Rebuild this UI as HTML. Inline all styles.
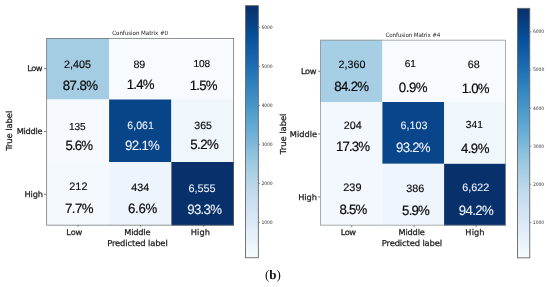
<!DOCTYPE html>
<html lang="en"><head><meta charset="utf-8"><title>Confusion matrices (b)</title>
<style>
html,body{margin:0;padding:0;background:#fff;}
body{width:550px;height:287px;overflow:hidden;font-family:"Liberation Sans",sans-serif;}
svg{display:block;}
text{white-space:pre;text-rendering:geometricPrecision;}
</style></head>
<body>
<svg width="550" height="287" viewBox="0 0 550 287">
<rect width="550" height="287" fill="#ffffff"/>
<rect x="46.35" y="38.00" width="62.75" height="61.50" fill="#a4cce3"/>
<rect x="109.10" y="38.00" width="62.30" height="61.50" fill="#f7fbff"/>
<rect x="171.40" y="38.00" width="62.60" height="61.50" fill="#f7fbff"/>
<rect x="46.35" y="99.50" width="62.75" height="62.50" fill="#f6faff"/>
<rect x="109.10" y="99.50" width="62.30" height="62.50" fill="#084488"/>
<rect x="171.40" y="99.50" width="62.60" height="62.50" fill="#eff6fc"/>
<rect x="46.35" y="162.00" width="62.75" height="63.50" fill="#f4f9fe"/>
<rect x="109.10" y="162.00" width="62.30" height="63.50" fill="#edf4fc"/>
<rect x="171.40" y="162.00" width="62.60" height="63.50" fill="#08306b"/>
<rect x="46.70" y="38.35" width="186.95" height="186.80" fill="none" stroke="#6a6a6a" stroke-width="0.7"/>
<text x="64.01" y="67.66" font-family="'Liberation Sans', sans-serif" font-size="10.78" letter-spacing="-0.002" fill="#0a0a0a" stroke="#0a0a0a" stroke-width="0.15">2,405</text>
<text transform="translate(62.79,90.19) scale(0.98,1)" font-family="'Liberation Sans', sans-serif" font-size="13.5" letter-spacing="-0.582" fill="#0a0a0a" stroke="#0a0a0a" stroke-width="0.2">87.8%</text>
<text x="133.39" y="67.65" font-family="'Liberation Sans', sans-serif" font-size="10.76" letter-spacing="-0.002" fill="#0a0a0a" stroke="#0a0a0a" stroke-width="0.15">89</text>
<text transform="translate(126.86,89.49) scale(0.98,1)" font-family="'Liberation Sans', sans-serif" font-size="13.5" letter-spacing="-0.876" fill="#0a0a0a" stroke="#0a0a0a" stroke-width="0.2">1.4%</text>
<text x="193.59" y="66.62" font-family="'Liberation Sans', sans-serif" font-size="10.1" letter-spacing="-0.177" fill="#0a0a0a" stroke="#0a0a0a" stroke-width="0.15">108</text>
<text transform="translate(189.76,89.59) scale(0.98,1)" font-family="'Liberation Sans', sans-serif" font-size="13.5" letter-spacing="-0.842" fill="#0a0a0a" stroke="#0a0a0a" stroke-width="0.2">1.5%</text>
<text x="68.99" y="130.47" font-family="'Liberation Sans', sans-serif" font-size="10.1" letter-spacing="-0.140" fill="#0a0a0a" stroke="#0a0a0a" stroke-width="0.15">135</text>
<text transform="translate(65.62,150.09) scale(0.98,1)" font-family="'Liberation Sans', sans-serif" font-size="13.5" letter-spacing="-0.932" fill="#0a0a0a" stroke="#0a0a0a" stroke-width="0.2">5.6%</text>
<text x="127.32" y="129.00" font-family="'Liberation Sans', sans-serif" font-size="10.6" letter-spacing="0.002" fill="#eef3fb" stroke="#eef3fb" stroke-width="0.08">6,061</text>
<text transform="translate(125.12,149.69) scale(0.98,1)" font-family="'Liberation Sans', sans-serif" font-size="13.5" letter-spacing="-0.718" fill="#eef3fb" stroke="#eef3fb" stroke-width="0.1">92.1%</text>
<text x="194.35" y="128.89" font-family="'Liberation Sans', sans-serif" font-size="10.57" letter-spacing="-0.003" fill="#0a0a0a" stroke="#0a0a0a" stroke-width="0.15">365</text>
<text transform="translate(190.22,149.19) scale(0.98,1)" font-family="'Liberation Sans', sans-serif" font-size="13.5" letter-spacing="-0.558" fill="#0a0a0a" stroke="#0a0a0a" stroke-width="0.2">5.2%</text>
<text x="69.20" y="190.10" font-family="'Liberation Sans', sans-serif" font-size="10.9" letter-spacing="0.057" fill="#0a0a0a" stroke="#0a0a0a" stroke-width="0.15">212</text>
<text transform="translate(65.06,213.24) scale(0.98,1)" font-family="'Liberation Sans', sans-serif" font-size="13.5" letter-spacing="-0.603" fill="#0a0a0a" stroke="#0a0a0a" stroke-width="0.2">7.7%</text>
<text x="131.31" y="191.23" font-family="'Liberation Sans', sans-serif" font-size="10.7" letter-spacing="-0.004" fill="#0a0a0a" stroke="#0a0a0a" stroke-width="0.15">434</text>
<text transform="translate(128.09,213.24) scale(0.98,1)" font-family="'Liberation Sans', sans-serif" font-size="13.5" letter-spacing="-0.376" fill="#0a0a0a" stroke="#0a0a0a" stroke-width="0.2">6.6%</text>
<text x="188.41" y="191.50" font-family="'Liberation Sans', sans-serif" font-size="10.9" letter-spacing="0.001" fill="#eef3fb" stroke="#eef3fb" stroke-width="0.08">6,555</text>
<text transform="translate(187.22,213.99) scale(0.98,1)" font-family="'Liberation Sans', sans-serif" font-size="13.5" letter-spacing="-0.693" fill="#eef3fb" stroke="#eef3fb" stroke-width="0.1">93.3%</text>
<text transform="translate(112.19,35.10) scale(0.95,1)" font-family="'DejaVu Sans', sans-serif" font-size="5.9" letter-spacing="-0.075" fill="#222">Confusion Matrix #0</text>
<text transform="translate(66.35,235.20) scale(1.03,1)" font-family="'DejaVu Sans', sans-serif" font-size="8.0" letter-spacing="-0.136" fill="#222" stroke="#222" stroke-width="0.25">Low</text>
<text transform="translate(124.35,235.20) scale(1.03,1)" font-family="'DejaVu Sans', sans-serif" font-size="8.0" letter-spacing="-0.209" fill="#222" stroke="#222" stroke-width="0.25">Middle</text>
<text transform="translate(190.85,235.20) scale(1.03,1)" font-family="'DejaVu Sans', sans-serif" font-size="8.0" letter-spacing="0.049" fill="#222" stroke="#222" stroke-width="0.25">High</text>
<text transform="translate(107.13,245.80) scale(1.03,1)" font-family="'DejaVu Sans', sans-serif" font-size="8.2" letter-spacing="-0.142" fill="#222" stroke="#222" stroke-width="0.25">Predicted label</text>
<text transform="translate(27.35,71.20) scale(1.03,1)" font-family="'DejaVu Sans', sans-serif" font-size="8.0" letter-spacing="-0.524" fill="#222" stroke="#222" stroke-width="0.25">Low</text>
<text transform="translate(16.75,133.70) scale(1.03,1)" font-family="'DejaVu Sans', sans-serif" font-size="8.0" letter-spacing="-0.267" fill="#222" stroke="#222" stroke-width="0.25">Middle</text>
<text transform="translate(24.55,196.60) scale(1.03,1)" font-family="'DejaVu Sans', sans-serif" font-size="8.0" letter-spacing="-0.145" fill="#222" stroke="#222" stroke-width="0.25">High</text>
<text transform="translate(11.90,150.83) rotate(-90) scale(1.03,1)" font-family="'DejaVu Sans', sans-serif" font-size="8.2" letter-spacing="-0.096" fill="#222" stroke="#222" stroke-width="0.25">True label</text>
<line x1="78.10" x2="78.10" y1="225.00" y2="226.60" stroke="#444" stroke-width="0.7"/>
<line x1="140.60" x2="140.60" y1="225.00" y2="226.60" stroke="#444" stroke-width="0.7"/>
<line x1="203.30" x2="203.30" y1="225.00" y2="226.60" stroke="#444" stroke-width="0.7"/>
<line x1="44.00" x2="46.20" y1="68.70" y2="68.70" stroke="#444" stroke-width="0.7"/>
<line x1="44.00" x2="46.20" y1="131.50" y2="131.50" stroke="#444" stroke-width="0.7"/>
<line x1="44.00" x2="46.20" y1="194.30" y2="194.30" stroke="#444" stroke-width="0.7"/>
<defs><linearGradient id="g1" x1="0" y1="0" x2="0" y2="1"><stop offset="0.0000" stop-color="#08306b"/><stop offset="0.0312" stop-color="#083776"/><stop offset="0.0625" stop-color="#084082"/><stop offset="0.0938" stop-color="#08488e"/><stop offset="0.1250" stop-color="#08509b"/><stop offset="0.1562" stop-color="#0e58a2"/><stop offset="0.1875" stop-color="#1460a8"/><stop offset="0.2188" stop-color="#1a68ae"/><stop offset="0.2500" stop-color="#2070b4"/><stop offset="0.2812" stop-color="#2979b9"/><stop offset="0.3125" stop-color="#3181bd"/><stop offset="0.3438" stop-color="#3989c1"/><stop offset="0.3750" stop-color="#4191c6"/><stop offset="0.4062" stop-color="#4b98ca"/><stop offset="0.4375" stop-color="#56a0ce"/><stop offset="0.4688" stop-color="#60a7d2"/><stop offset="0.5000" stop-color="#6aaed6"/><stop offset="0.5312" stop-color="#77b5d9"/><stop offset="0.5625" stop-color="#84bcdb"/><stop offset="0.5938" stop-color="#91c3de"/><stop offset="0.6250" stop-color="#9dcae1"/><stop offset="0.6562" stop-color="#a8cee4"/><stop offset="0.6875" stop-color="#b2d2e8"/><stop offset="0.7188" stop-color="#bcd7eb"/><stop offset="0.7500" stop-color="#c6dbef"/><stop offset="0.7812" stop-color="#ccdff1"/><stop offset="0.8125" stop-color="#d2e3f3"/><stop offset="0.8438" stop-color="#d8e7f5"/><stop offset="0.8750" stop-color="#deebf7"/><stop offset="0.9062" stop-color="#e4eff9"/><stop offset="0.9375" stop-color="#eaf3fb"/><stop offset="0.9688" stop-color="#f1f7fd"/><stop offset="1.0000" stop-color="#f7fbff"/></linearGradient></defs>
<rect x="245.55" y="5.65" width="12.80" height="252.10" fill="url(#g1)" stroke="#666" stroke-width="0.9"/>
<line x1="258.80" x2="259.90" y1="27.30" y2="27.30" stroke="#333" stroke-width="0.6"/>
<text transform="translate(261.58,28.75) scale(0.97,1)" font-family="'DejaVu Sans', sans-serif" font-size="4.7" letter-spacing="-0.167" fill="#3a3a3a">6000</text>
<line x1="258.80" x2="259.90" y1="66.32" y2="66.32" stroke="#333" stroke-width="0.6"/>
<text transform="translate(261.55,67.77) scale(0.97,1)" font-family="'DejaVu Sans', sans-serif" font-size="4.7" letter-spacing="-0.156" fill="#3a3a3a">5000</text>
<line x1="258.80" x2="259.90" y1="105.34" y2="105.34" stroke="#333" stroke-width="0.6"/>
<text transform="translate(261.67,106.79) scale(0.97,1)" font-family="'DejaVu Sans', sans-serif" font-size="4.7" letter-spacing="-0.199" fill="#3a3a3a">4000</text>
<line x1="258.80" x2="259.90" y1="144.36" y2="144.36" stroke="#333" stroke-width="0.6"/>
<text transform="translate(261.56,145.81) scale(0.97,1)" font-family="'DejaVu Sans', sans-serif" font-size="4.7" letter-spacing="-0.160" fill="#3a3a3a">3000</text>
<line x1="258.80" x2="259.90" y1="183.38" y2="183.38" stroke="#333" stroke-width="0.6"/>
<text transform="translate(261.57,184.83) scale(0.97,1)" font-family="'DejaVu Sans', sans-serif" font-size="4.7" letter-spacing="-0.164" fill="#3a3a3a">2000</text>
<line x1="258.80" x2="259.90" y1="222.40" y2="222.40" stroke="#333" stroke-width="0.6"/>
<text transform="translate(261.40,223.85) scale(0.97,1)" font-family="'DejaVu Sans', sans-serif" font-size="4.7" letter-spacing="-0.105" fill="#3a3a3a">1000</text>
<rect x="320.00" y="39.80" width="62.40" height="62.20" fill="#a6cee4"/>
<rect x="382.40" y="39.80" width="61.70" height="62.20" fill="#f7fbff"/>
<rect x="444.10" y="39.80" width="61.70" height="62.20" fill="#f7fbff"/>
<rect x="320.00" y="102.00" width="62.40" height="61.80" fill="#f3f8fe"/>
<rect x="382.40" y="102.00" width="61.70" height="61.80" fill="#08458a"/>
<rect x="444.10" y="102.00" width="61.70" height="61.80" fill="#eff6fc"/>
<rect x="320.00" y="163.80" width="62.40" height="61.70" fill="#f2f8fd"/>
<rect x="382.40" y="163.80" width="61.70" height="61.70" fill="#eef5fc"/>
<rect x="444.10" y="163.80" width="61.70" height="61.70" fill="#08306b"/>
<rect x="320.35" y="40.15" width="185.10" height="185.00" fill="none" stroke="#8c8c8c" stroke-width="0.7"/>
<text x="338.61" y="67.84" font-family="'Liberation Sans', sans-serif" font-size="10.72" letter-spacing="0.003" fill="#0a0a0a" stroke="#0a0a0a" stroke-width="0.15">2,360</text>
<text transform="translate(334.19,90.54) scale(0.98,1)" font-family="'Liberation Sans', sans-serif" font-size="13.5" letter-spacing="-0.659" fill="#0a0a0a" stroke="#0a0a0a" stroke-width="0.2">84.2%</text>
<text x="404.85" y="67.47" font-family="'Liberation Sans', sans-serif" font-size="10.1" letter-spacing="-0.326" fill="#0a0a0a" stroke="#0a0a0a" stroke-width="0.15">61</text>
<text transform="translate(398.82,92.09) scale(0.98,1)" font-family="'Liberation Sans', sans-serif" font-size="13.5" letter-spacing="-0.489" fill="#0a0a0a" stroke="#0a0a0a" stroke-width="0.2">0.9%</text>
<text x="467.81" y="68.23" font-family="'Liberation Sans', sans-serif" font-size="10.71" letter-spacing="0.003" fill="#0a0a0a" stroke="#0a0a0a" stroke-width="0.15">68</text>
<text transform="translate(461.86,92.54) scale(0.98,1)" font-family="'Liberation Sans', sans-serif" font-size="13.5" letter-spacing="-0.876" fill="#0a0a0a" stroke="#0a0a0a" stroke-width="0.2">1.0%</text>
<text x="343.71" y="128.95" font-family="'Liberation Sans', sans-serif" font-size="10.75" letter-spacing="0.004" fill="#0a0a0a" stroke="#0a0a0a" stroke-width="0.15">204</text>
<text transform="translate(335.96,151.29) scale(0.98,1)" font-family="'Liberation Sans', sans-serif" font-size="13.5" letter-spacing="-0.881" fill="#0a0a0a" stroke="#0a0a0a" stroke-width="0.2">17.3%</text>
<text x="400.61" y="128.80" font-family="'Liberation Sans', sans-serif" font-size="10.75" letter-spacing="-0.002" fill="#eef3fb" stroke="#eef3fb" stroke-width="0.08">6,103</text>
<text transform="translate(396.02,151.74) scale(0.98,1)" font-family="'Liberation Sans', sans-serif" font-size="13.5" letter-spacing="-0.744" fill="#eef3fb" stroke="#eef3fb" stroke-width="0.1">93.2%</text>
<text x="465.77" y="127.77" font-family="'Liberation Sans', sans-serif" font-size="10.24" letter-spacing="-0.002" fill="#0a0a0a" stroke="#0a0a0a" stroke-width="0.15">341</text>
<text transform="translate(460.95,152.64) scale(0.98,1)" font-family="'Liberation Sans', sans-serif" font-size="13.5" letter-spacing="-0.568" fill="#0a0a0a" stroke="#0a0a0a" stroke-width="0.2">4.9%</text>
<text x="343.20" y="191.30" font-family="'Liberation Sans', sans-serif" font-size="10.9" letter-spacing="0.080" fill="#0a0a0a" stroke="#0a0a0a" stroke-width="0.15">239</text>
<text transform="translate(339.49,213.99) scale(0.98,1)" font-family="'Liberation Sans', sans-serif" font-size="13.5" letter-spacing="-0.784" fill="#0a0a0a" stroke="#0a0a0a" stroke-width="0.2">8.5%</text>
<text x="406.25" y="191.70" font-family="'Liberation Sans', sans-serif" font-size="10.77" letter-spacing="0.001" fill="#0a0a0a" stroke="#0a0a0a" stroke-width="0.15">386</text>
<text transform="translate(402.12,214.64) scale(0.98,1)" font-family="'Liberation Sans', sans-serif" font-size="13.5" letter-spacing="-0.830" fill="#0a0a0a" stroke="#0a0a0a" stroke-width="0.2">5.9%</text>
<text x="462.31" y="191.46" font-family="'Liberation Sans', sans-serif" font-size="10.78" letter-spacing="0.000" fill="#eef3fb" stroke="#eef3fb" stroke-width="0.08">6,622</text>
<text transform="translate(458.82,214.84) scale(0.98,1)" font-family="'Liberation Sans', sans-serif" font-size="13.5" letter-spacing="-0.667" fill="#eef3fb" stroke="#eef3fb" stroke-width="0.1">94.2%</text>
<text transform="translate(385.39,37.40) scale(0.95,1)" font-family="'DejaVu Sans', sans-serif" font-size="5.9" letter-spacing="-0.131" fill="#222">Confusion Matrix #4</text>
<text transform="translate(340.75,235.20) scale(1.03,1)" font-family="'DejaVu Sans', sans-serif" font-size="8.0" letter-spacing="-0.427" fill="#222" stroke="#222" stroke-width="0.25">Low</text>
<text transform="translate(398.45,235.20) scale(1.03,1)" font-family="'DejaVu Sans', sans-serif" font-size="8.0" letter-spacing="-0.151" fill="#222" stroke="#222" stroke-width="0.25">Middle</text>
<text transform="translate(465.35,235.20) scale(1.03,1)" font-family="'DejaVu Sans', sans-serif" font-size="8.0" letter-spacing="0.081" fill="#222" stroke="#222" stroke-width="0.25">High</text>
<text transform="translate(381.73,245.80) scale(1.03,1)" font-family="'DejaVu Sans', sans-serif" font-size="8.2" letter-spacing="-0.156" fill="#222" stroke="#222" stroke-width="0.25">Predicted label</text>
<text transform="translate(300.95,74.10) scale(1.03,1)" font-family="'DejaVu Sans', sans-serif" font-size="8.0" letter-spacing="-0.378" fill="#222" stroke="#222" stroke-width="0.25">Low</text>
<text transform="translate(289.85,136.90) scale(1.03,1)" font-family="'DejaVu Sans', sans-serif" font-size="8.0" letter-spacing="0.005" fill="#222" stroke="#222" stroke-width="0.25">Middle</text>
<text transform="translate(298.25,199.60) scale(1.03,1)" font-family="'DejaVu Sans', sans-serif" font-size="8.0" letter-spacing="-0.080" fill="#222" stroke="#222" stroke-width="0.25">High</text>
<text transform="translate(286.20,154.13) rotate(-90) scale(1.03,1)" font-family="'DejaVu Sans', sans-serif" font-size="8.2" letter-spacing="-0.042" fill="#222" stroke="#222" stroke-width="0.25">True label</text>
<line x1="351.80" x2="351.80" y1="225.50" y2="227.10" stroke="#444" stroke-width="0.7"/>
<line x1="414.00" x2="414.00" y1="225.50" y2="227.10" stroke="#444" stroke-width="0.7"/>
<line x1="476.20" x2="476.20" y1="225.50" y2="227.10" stroke="#444" stroke-width="0.7"/>
<line x1="318.20" x2="320.00" y1="71.30" y2="71.30" stroke="#444" stroke-width="0.7"/>
<line x1="318.20" x2="320.00" y1="134.00" y2="134.00" stroke="#444" stroke-width="0.7"/>
<line x1="318.20" x2="320.00" y1="196.90" y2="196.90" stroke="#444" stroke-width="0.7"/>
<defs><linearGradient id="g2" x1="0" y1="0" x2="0" y2="1"><stop offset="0.0000" stop-color="#08306b"/><stop offset="0.0312" stop-color="#083776"/><stop offset="0.0625" stop-color="#084082"/><stop offset="0.0938" stop-color="#08488e"/><stop offset="0.1250" stop-color="#08509b"/><stop offset="0.1562" stop-color="#0e58a2"/><stop offset="0.1875" stop-color="#1460a8"/><stop offset="0.2188" stop-color="#1a68ae"/><stop offset="0.2500" stop-color="#2070b4"/><stop offset="0.2812" stop-color="#2979b9"/><stop offset="0.3125" stop-color="#3181bd"/><stop offset="0.3438" stop-color="#3989c1"/><stop offset="0.3750" stop-color="#4191c6"/><stop offset="0.4062" stop-color="#4b98ca"/><stop offset="0.4375" stop-color="#56a0ce"/><stop offset="0.4688" stop-color="#60a7d2"/><stop offset="0.5000" stop-color="#6aaed6"/><stop offset="0.5312" stop-color="#77b5d9"/><stop offset="0.5625" stop-color="#84bcdb"/><stop offset="0.5938" stop-color="#91c3de"/><stop offset="0.6250" stop-color="#9dcae1"/><stop offset="0.6562" stop-color="#a8cee4"/><stop offset="0.6875" stop-color="#b2d2e8"/><stop offset="0.7188" stop-color="#bcd7eb"/><stop offset="0.7500" stop-color="#c6dbef"/><stop offset="0.7812" stop-color="#ccdff1"/><stop offset="0.8125" stop-color="#d2e3f3"/><stop offset="0.8438" stop-color="#d8e7f5"/><stop offset="0.8750" stop-color="#deebf7"/><stop offset="0.9062" stop-color="#e4eff9"/><stop offset="0.9375" stop-color="#eaf3fb"/><stop offset="0.9688" stop-color="#f1f7fd"/><stop offset="1.0000" stop-color="#f7fbff"/></linearGradient></defs>
<rect x="517.50" y="8.35" width="12.25" height="249.50" fill="url(#g2)" stroke="#666" stroke-width="0.9"/>
<line x1="530.20" x2="531.30" y1="31.90" y2="31.90" stroke="#333" stroke-width="0.6"/>
<text transform="translate(532.98,33.35) scale(0.97,1)" font-family="'DejaVu Sans', sans-serif" font-size="4.7" letter-spacing="-0.099" fill="#3a3a3a">6000</text>
<line x1="530.20" x2="531.30" y1="70.00" y2="70.00" stroke="#333" stroke-width="0.6"/>
<text transform="translate(532.95,71.45) scale(0.97,1)" font-family="'DejaVu Sans', sans-serif" font-size="4.7" letter-spacing="-0.087" fill="#3a3a3a">5000</text>
<line x1="530.20" x2="531.30" y1="108.10" y2="108.10" stroke="#333" stroke-width="0.6"/>
<text transform="translate(533.07,109.55) scale(0.97,1)" font-family="'DejaVu Sans', sans-serif" font-size="4.7" letter-spacing="-0.130" fill="#3a3a3a">4000</text>
<line x1="530.20" x2="531.30" y1="146.20" y2="146.20" stroke="#333" stroke-width="0.6"/>
<text transform="translate(532.96,147.65) scale(0.97,1)" font-family="'DejaVu Sans', sans-serif" font-size="4.7" letter-spacing="-0.091" fill="#3a3a3a">3000</text>
<line x1="530.20" x2="531.30" y1="184.30" y2="184.30" stroke="#333" stroke-width="0.6"/>
<text transform="translate(532.97,185.75) scale(0.97,1)" font-family="'DejaVu Sans', sans-serif" font-size="4.7" letter-spacing="-0.095" fill="#3a3a3a">2000</text>
<line x1="530.20" x2="531.30" y1="222.40" y2="222.40" stroke="#333" stroke-width="0.6"/>
<text transform="translate(532.80,223.85) scale(0.97,1)" font-family="'DejaVu Sans', sans-serif" font-size="4.7" letter-spacing="-0.036" fill="#3a3a3a">1000</text>
<text x="264.9" y="278.5" font-family="'Liberation Serif', serif" font-size="13" fill="#111">(<tspan font-weight="bold">b</tspan>)</text>
</svg>
</body></html>
